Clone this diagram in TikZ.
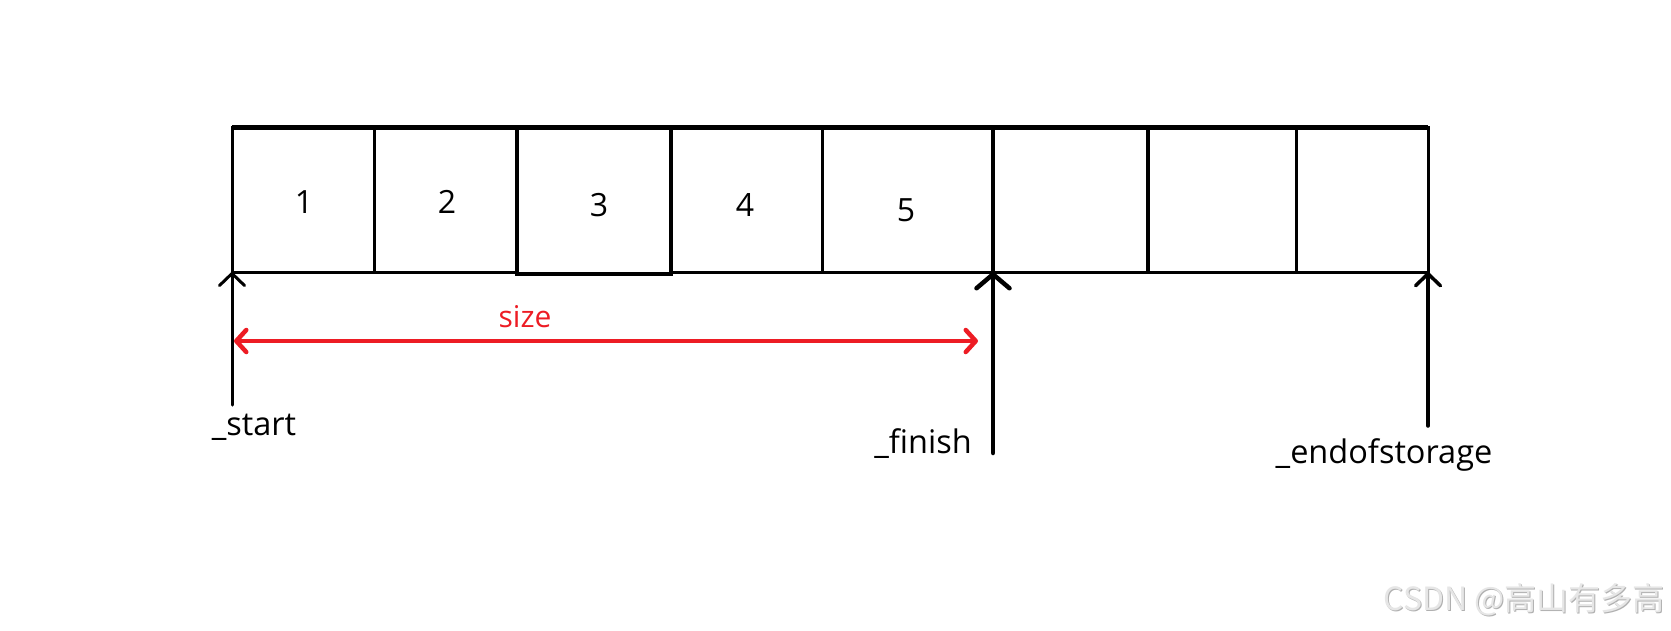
\documentclass[tikz,border=0pt]{standalone}
\usepackage{fontspec}
\setmainfont{Open Sans}
\newfontfamily\cjk{Noto Sans CJK SC}
\usetikzlibrary{arrows.meta}
\definecolor{pred}{HTML}{ED1C24}
\definecolor{wmfill}{HTML}{E6E6E6}
\definecolor{wmshade}{HTML}{B0B0B0}
\begin{document}
\begin{tikzpicture}[x=1pt,y=-1pt,
  cell/.style={draw=black, line width=3pt, minimum height=145pt, inner sep=0pt, outer sep=0pt},
  thickcell/.style={cell, line width=4.5pt},
  heavy/.style={line width=4.5pt},
  num/.style={font=\fontsize{32}{38}\selectfont, inner sep=0pt},
  lbl/.style={font=\fontsize{32.5}{38}\selectfont, inner sep=0pt},
  ptr/.style={line cap=round, line join=round,
    -{Straight Barb[length=12pt,width=25pt,line cap=round,line join=round]}},
  bigptr/.style={line cap=round, line join=round,
    -{Straight Barb[length=14pt,width=33pt,line cap=round,line join=round]}},
  sizearrow/.style={draw=pred, line width=4.5pt, line cap=round, line join=round,
    {Straight Barb[length=10pt,width=22pt,line cap=round,line join=round]}-{Straight Barb[length=10pt,width=22pt,line cap=round,line join=round]}},
  wm/.style={font=\cjk\fontsize{32}{38}\selectfont, inner sep=0pt, anchor=east}
]
\fill[white] (0,0) rectangle (1671,630);
\useasboundingbox (0,0) rectangle (1671,630);

% cells
\node[cell, minimum width=142pt] (c1) at (303,199.5) {};
\node[cell, minimum width=143pt] (c2) at (445.5,199.5) {};
\node[cell, minimum width=151pt] (c4) at (746.5,199.5) {};
\node[cell, minimum width=171pt] (c5) at (907.5,199.5) {};
\node[cell, minimum width=155pt] (c6) at (1070.5,199.5) {};
\node[cell, minimum width=148pt] (c7) at (1222,199.5) {};
\node[cell, minimum width=132pt] (c8) at (1362,199.5) {};
\node[thickcell, minimum width=154pt, minimum height=147pt] (c3) at (594,200.5) {};
\draw[heavy] (c6.north west) -- (c6.south west);
\draw[heavy] (c6.north east) -- (c6.south east);

% heavy top edge
\draw[line width=5pt] (c1.north west) -- (c8.north east);

% numbers
\node[num] (n1) at (304,202) {1};
\node[num] (n2) at (447,202) {2};
\node[num] (n3) at (599,205) {3};
\node[num] (n4) at (745,205) {4};
\node[num] (n5) at (906,210) {5};

% pointers
\coordinate (st) at (232,405);
\coordinate (ft) at (993,453);
\coordinate (et) at (1428,426);
\draw[ptr, line width=3pt] (st) -- (c1.south west);
\draw[bigptr, line width=4.5pt] (ft) -- (c6.south west);
\draw[ptr, line width=3.5pt] (et) -- (c8.south east);

\node[lbl] (ls) at (254,427) {\_start};
\node[lbl] (lf) at (923,444) {\_finish};
\node[lbl] (le) at (1384,455) {\_endofstorage};

% size
\coordinate (sa) at (234,341);
\coordinate (sb) at (978,341);
\draw[sizearrow] (sa) -- (sb);
\node[font=\fontsize{30}{36}\selectfont, text=pred, inner sep=0pt] (sz) at (525,317) {size};

% watermark
\node[wm, text=wmshade] (wms) at (1666,601) {CSDN @高山有多高};
\node[wm, text=wmfill] (wmt) at (1665,600) {CSDN @高山有多高};
\end{tikzpicture}
\end{document}
